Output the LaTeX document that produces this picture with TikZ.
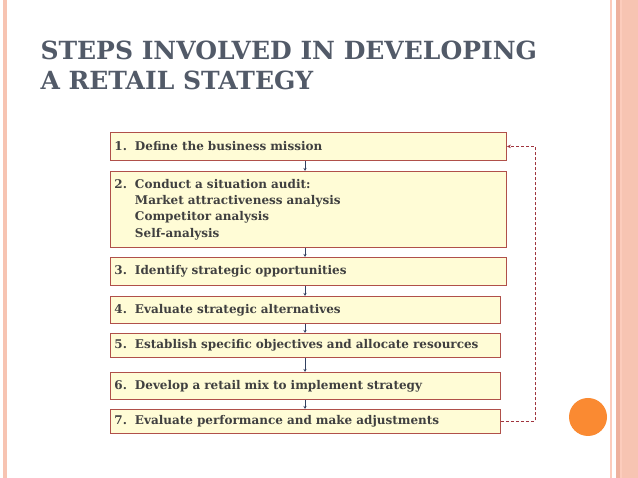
\documentclass[tikz,border=0pt]{standalone}
\usepackage{fontspec}
\setmainfont{Liberation Serif}
\newfontfamily\titlefont{DejaVu Serif}
\newfontfamily\stepfont{DejaVu Serif}
\usepackage{xcolor}
\usepackage{tikz}
\usetikzlibrary{arrows.meta}

\definecolor{titleColor}{RGB}{82,90,104}
\definecolor{stepText}{RGB}{64,64,64}
\definecolor{boxFill}{RGB}{255,252,214}
\definecolor{boxLine}{RGB}{176,80,74}
\definecolor{arrowColor}{RGB}{50,64,96}
\definecolor{loopColor}{RGB}{160,52,62}
\definecolor{stripeA}{RGB}{247,196,178}
\definecolor{stripeB}{RGB}{238,178,158}
\definecolor{stripeC}{RGB}{252,204,188}
\definecolor{dotColor}{RGB}{250,138,50}

\newcommand{\indentstep}{\phantom{2.\ \ }}

\begin{document}
\begin{tikzpicture}[x=1pt,y=1pt,
  stepbox/.style={draw=boxLine,fill=boxFill,line width=0.9pt,anchor=north west,
    inner xsep=4pt,inner ysep=0pt,align=left,text=stepText,
    font=\stepfont\fontsize{12}{16.4}\selectfont\bfseries},
  flow/.style={draw=arrowColor,line width=0.6pt,-{Stealth[length=3pt,width=3pt]}},
  loopback/.style={draw=loopColor,line width=0.8pt,dash pattern=on 3pt off 2pt,
    -{Stealth[length=4pt,width=3.5pt]}}]
\path[use as bounding box,fill=white] (0,0) rectangle (638,478);

% page border stripes
\fill[stripeA] (3,0) rectangle (7,478);
\fill[stripeC] (610,0) rectangle (612,478);
\fill[stripeB] (616,0) rectangle (620,478);
\fill[stripeC] (620,0) rectangle (622,478);
\fill[stripeA] (622,0) rectangle (638,478);
\fill[dotColor] (588,61) circle (19);

% title
\node[anchor=base west,text=titleColor,font=\titlefont\fontsize{25}{30}\selectfont\bfseries] (title1) at (37,418) {STEPS INVOLVED IN DEVELOPING};
\node[anchor=base west,text=titleColor,font=\titlefont\fontsize{25}{30}\selectfont\bfseries] (title2) at (37,388) {A RETAIL STATEGY};

% steps
\node[stepbox,text width=388pt,minimum height=28pt] (s1) at (110,346) {1.\ \ Define the business mission};
\node[stepbox,text width=388pt,minimum height=76pt] (s2) at (110,307) {2.\ \ Conduct a situation audit:\\
  \indentstep Market attractiveness analysis\\
  \indentstep Competitor analysis\\
  \indentstep Self-analysis};
\node[stepbox,text width=388pt,minimum height=28pt] (s3) at (110,221) {3.\ \ Identify strategic opportunities};
\node[stepbox,text width=382pt,minimum height=27pt] (s4) at (110,182) {4.\ \ Evaluate strategic alternatives};
\node[stepbox,text width=382pt,minimum height=24pt] (s5) at (110,145) {5.\ \ Establish specific objectives and allocate resources};
\node[stepbox,text width=382pt,minimum height=27pt] (s6) at (110,106) {6.\ \ Develop a retail mix to implement strategy};
\node[stepbox,text width=382pt,minimum height=24pt] (s7) at (110,69) {7.\ \ Evaluate performance and make adjustments};

\coordinate (axis) at (305,0);
\foreach \a/\b in {s1/s2,s2/s3,s3/s4,s4/s5,s5/s6,s6/s7}
  \draw[flow] (\a.south -| axis) -- (\b.north -| axis);

\draw[loopback] (s7.east) -| ([xshift=28pt]s1.east) -- (s1.east);
\end{tikzpicture}
\end{document}
